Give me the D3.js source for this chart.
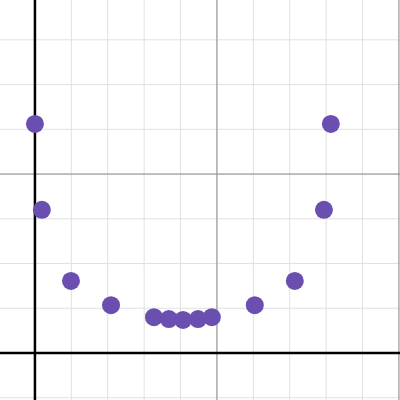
<!DOCTYPE html>
<html><head><meta charset="utf-8">
<script src="https://cdn.jsdelivr.net/npm/d3@7"></script>
<style>body{margin:0;background:#fff}</style></head>
<body><svg id="c" width="400" height="400"></svg>
<script>
const xs = [0, 0.19, 0.99, 2.09, 3.27, 3.68, 4.07, 4.48, 4.86, 6.04, 7.14, 7.94, 8.13];
const ys = [5.12, 3.20, 1.61, 1.07, 0.80, 0.76, 0.74, 0.76, 0.80, 1.07, 1.61, 3.20, 5.12];
const minorX = d3.range(-1, 12, 1);
const minorY = d3.range(-2, 10, 1);
const majorX = [-5, 5, 10];
const majorY = [-4, 4, 8];

const svg = d3.select("#c");
const x = d3.scaleLinear().domain([-0.96, 10.03]).range([0, 400]);
const y = d3.scaleLinear().domain([-1.05, 7.89]).range([400, 0]);

const g = svg.append("g");
g.selectAll(".vx").data(minorX).join("line")
  .attr("x1", d => x(d)).attr("x2", d => x(d)).attr("y1", 0).attr("y2", 400)
  .attr("stroke", "#e0e0e0").attr("stroke-width", 1);
g.selectAll(".hy").data(minorY).join("line")
  .attr("y1", d => y(d)).attr("y2", d => y(d)).attr("x1", 0).attr("x2", 400)
  .attr("stroke", "#e0e0e0").attr("stroke-width", 1);
g.selectAll(".mx").data(majorX).join("line")
  .attr("x1", d => x(d)).attr("x2", d => x(d)).attr("y1", 0).attr("y2", 400)
  .attr("stroke", "#8f8f8f").attr("stroke-width", 1);
g.selectAll(".my").data(majorY).join("line")
  .attr("y1", d => y(d)).attr("y2", d => y(d)).attr("x1", 0).attr("x2", 400)
  .attr("stroke", "#8f8f8f").attr("stroke-width", 1);
svg.append("line").attr("x1", x(0)).attr("x2", x(0)).attr("y1", 0).attr("y2", 400)
  .attr("stroke", "#000").attr("stroke-width", 2.5);
svg.append("line").attr("y1", y(0)).attr("y2", y(0)).attr("x1", 0).attr("x2", 400)
  .attr("stroke", "#000").attr("stroke-width", 2.5);

svg.selectAll("circle").data(xs.map((v, i) => [v, ys[i]])).join("circle")
  .attr("cx", d => x(d[0])).attr("cy", d => y(d[1])).attr("r", 9)
  .attr("fill", "#6a4fb0");
</script></body></html>
